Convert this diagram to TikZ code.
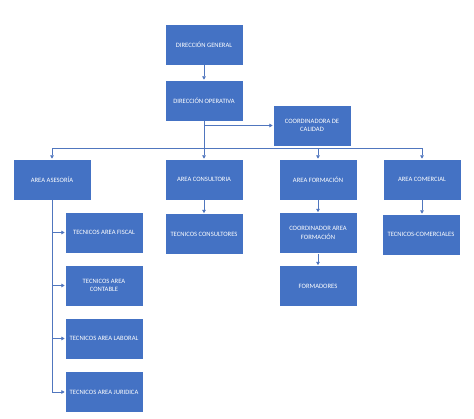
\documentclass[tikz,border=0pt]{standalone}
\usepackage{fontspec}
\setmainfont{Carlito}
\usetikzlibrary{arrows.meta}
\definecolor{boxblue}{RGB}{68,114,196}
\definecolor{lineblue}{RGB}{80,118,190}
\begin{document}
\begin{tikzpicture}[x=1pt,y=-1pt,
  box/.style={fill=boxblue,draw=white,line width=0.6pt,minimum width=78pt,minimum height=41pt,
    inner sep=1pt,align=center,text=white,font=\fontsize{6.6}{8.6}\selectfont},
  conn/.style={draw=lineblue,line width=0.8pt},
  arr/.style={conn,-{Triangle[length=3.4pt,width=3.6pt]}}]
\useasboundingbox (0,0) rectangle (474,419);
\node[box] (dg) at (204,44.5) {DIRECCIÓN GENERAL};
\node[box] (do) at (204,100.5) {DIRECCIÓN OPERATIVA};
\node[box] (coord) at (312,125.5) {COORDINADORA DE\\CALIDAD};
\node[box] (ase) at (52,179.5) {AREA ASESORÍA};
\node[box] (con) at (204,179.5) {AREA CONSULTORIA};
\node[box] (for) at (318,179.5) {AREA FORMACIÓN};
\node[box] (com) at (422,179.5) {AREA COMERCIAL};
\node[box] (fis) at (104,232.5) {TECNICOS AREA FISCAL};
\node[box] (tcon) at (204,234) {TECNICOS CONSULTORES};
\node[box] (cfor) at (318,233) {COORDINADOR AREA\\FORMACIÓN};
\node[box] (tcom) at (421,234.5) {TECNICOS-COMERCIALES};
\node[box] (form) at (318,286) {FORMADORES};
\node[box] (cont) at (104,285.5) {TECNICOS AREA\\CONTABLE};
\node[box] (lab) at (104,338.5) {TECNICOS AREA LABORAL};
\node[box] (jur) at (104,392) {TECNICOS AREA JURIDICA};
\coordinate (bus) at (0,148.5);
\draw[arr] (dg.south) -- (do.north);
\draw[arr] (do.south) -- (con.north);
\draw[arr] (do.south |- coord.west) -- (coord.west);
\draw[conn] (ase.north |- bus) -- (com.north |- bus);
\draw[arr] (ase.north |- bus) -- (ase.north);
\draw[arr] (for.north |- bus) -- (for.north);
\draw[arr] (com.north |- bus) -- (com.north);
\draw[arr] (con.south) -- (tcon.north);
\draw[arr] (for.south) -- (cfor.north);
\draw[arr] (cfor.south) -- (form.north);
\draw[arr] (com.south) -- (com.south |- tcom.north);
\draw[arr] (ase.south) |- (fis.west);
\draw[arr] (ase.south) |- (cont.west);
\draw[arr] (ase.south) |- (lab.west);
\draw[arr] (ase.south) |- (jur.west);
\end{tikzpicture}
\end{document}
